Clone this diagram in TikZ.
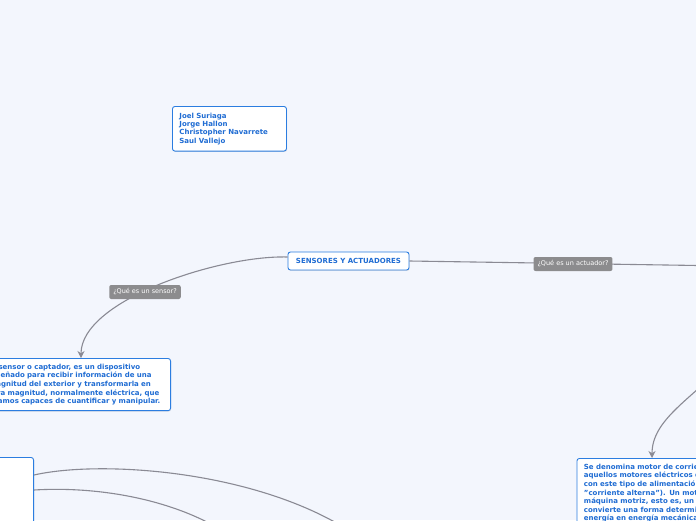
\documentclass[tikz,border=0pt]{standalone}
\usepackage{fontspec}
\setmainfont{DejaVu Sans}
\usetikzlibrary{arrows.meta,shadows}
\definecolor{mapbg}{HTML}{F3F6FD}
\definecolor{mapblue}{HTML}{2B7DE0}
\definecolor{maptext}{HTML}{1F6CD3}
\definecolor{mapgray}{HTML}{8C8C8E}
\definecolor{mapline}{HTML}{8A8A94}

\begin{document}
\begin{tikzpicture}[x=1pt,y=-1pt]
   \tikzstyle{topic}=[draw=mapblue, line width=0.9pt, fill=white, rounded corners=2.5pt, drop shadow={shadow xshift=0.6pt, shadow yshift=-0.9pt, opacity=0.2}, text=maptext, font=\fontsize{7}{8.6}\selectfont\bfseries, align=left, inner xsep=7pt, inner ysep=6.3pt]
   \tikzstyle{tag}=[fill=mapgray, text=white, rounded corners=2pt, font=\fontsize{6.5}{7.5}\selectfont, inner xsep=4pt, inner ysep=0pt, minimum height=14pt]
   \tikzstyle{link}=[draw=mapline, line width=1.1pt]
   \tikzstyle{tip}=[-{Stealth[length=7pt,width=7pt]}]

\useasboundingbox (0,0) rectangle (696,520);
\fill[mapbg] (0,0) rectangle (696,520);
\clip (0,0) rectangle (696,520);

% boxes
\node[topic, anchor=north west, text width=100pt, font=\fontsize{7}{8.4}\selectfont\bfseries] (autores) at (172,106)
    {Joel Suriaga\\Jorge Hallon\\Christopher Navarrete\\Saul Vallejo};
\node[topic, align=center, minimum width=121pt, minimum height=18pt, inner ysep=0pt] (centro) at (348.5,261)
    {SENSORES Y ACTUADORES};
\node[topic, anchor=north east, text width=174.5pt, inner ysep=5.5pt] (sensor) at (171,358)
    {El sensor o captador, es un dispositivo\\diseñado para recibir información de una\\magnitud del exterior y transformarla en\\otra magnitud, normalmente eléctrica, que\\seamos capaces de cuantificar y manipular.};
\node[topic, anchor=north west, text width=190pt, inner ysep=5.5pt] (motor) at (576.5,458)
    {Se denomina motor de corriente alterna a\\aquellos motores eléctricos que funcionan\\con este tipo de alimentación (en inglés\\"corriente alterna"). Un motor es una\\máquina motriz, esto es, un aparato que\\convierte una forma determinada de\\energía en energía mecánica de rotación.};
\node[topic, anchor=north east, minimum width=120pt, minimum height=100pt] (bloque) at (34,457) {};

% off-screen ends and guides
\coordinate (farR) at (730,266);
\coordinate (farR2) at (722,366);
\coordinate (farA) at (345,528);
\coordinate (farB) at (218,528);
\coordinate (colS) at (81,0);
\coordinate (colM) at (652,0);
\coordinate (b1) at ([yshift=-18pt]bloque.north east);
\coordinate (b2) at ([yshift=-33pt]bloque.north east);

% connectors
\draw[link, tip] ([yshift=4pt]centro.west) .. controls (220,255) and (81,300) .. (colS |- sensor.north);
\draw[link] (centro.east) -- (farR);
\draw[link, tip] (farR2) .. controls (690,400) and (652,420) .. (colM |- motor.north);
\draw[link] (b1) .. controls (100,460) and (250,470) .. (farA);
\draw[link] (b2) .. controls (100,486) and (170,500) .. (farB);

% labels on the links
\node[tag] (qsensor) at (145,292) {¿Qué es un sensor?};
\node[tag] (qactuador) at (573,264) {¿Qué es un actuador?};

\end{tikzpicture}
\end{document}
